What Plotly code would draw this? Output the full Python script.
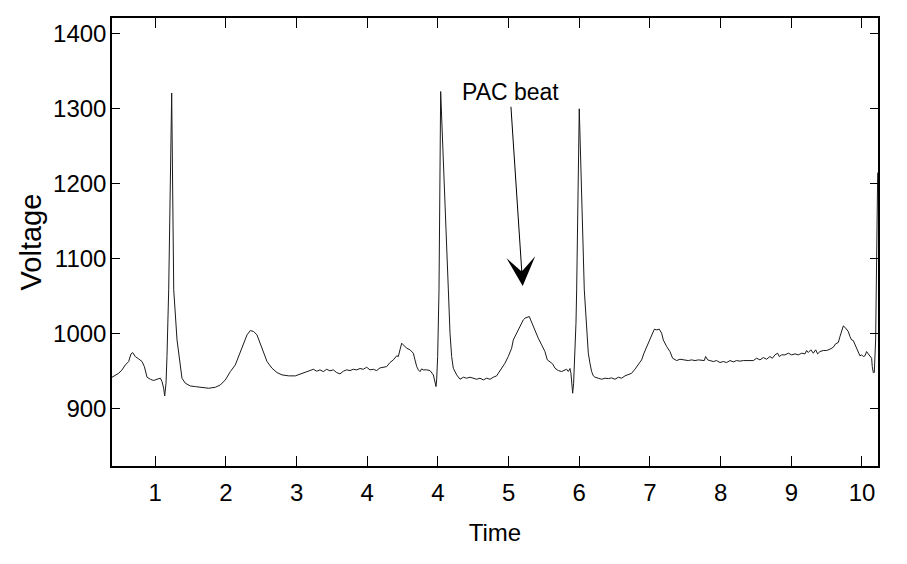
import plotly.graph_objects as go

# ECG trace (time in s, voltage)
time = [
    0.350, 0.392, 0.435, 0.477, 0.520, 0.562, 0.592, 0.613, 0.647, 0.690,
    0.732, 0.762, 0.774, 0.796, 0.838, 0.881, 0.923, 0.965, 0.987, 1.008,
    1.021, 1.038, 1.050, 1.072, 1.110, 1.136, 1.178, 1.220, 1.241, 1.284,
    1.347, 1.411, 1.496, 1.581, 1.666, 1.729, 1.793, 1.857, 1.920, 1.984,
    2.027, 2.069, 2.111, 2.154, 2.196, 2.239, 2.281, 2.324, 2.387, 2.451,
    2.515, 2.600, 2.684, 2.769, 2.833,
    2.871, 2.914, 2.956, 2.999, 3.041, 3.084, 3.126, 3.168, 3.211, 3.253,
    3.296, 3.338, 3.381, 3.423, 3.466, 3.508, 3.550, 3.593, 3.635, 3.678,
    3.720, 3.763, 3.805, 3.848, 3.890, 3.932, 3.975, 3.996, 4.017, 4.039,
    4.060, 4.102, 4.145, 4.187, 4.208, 4.230, 4.251, 4.272, 4.293, 4.314,
    4.357, 4.399, 4.442, 4.463, 4.476, 4.484, 4.497, 4.514, 4.535, 4.633,
    4.654, 4.675, 4.696, 4.739, 4.781, 4.824, 4.866, 4.909, 4.951, 4.994,
    5.036, 5.078, 5.121,
    5.163, 5.205, 5.248, 5.269, 5.312, 5.354, 5.396, 5.439, 5.460, 5.503,
    5.545, 5.587, 5.609, 5.638, 5.664, 5.681, 5.706, 5.736, 5.778, 5.821,
    5.863, 5.893, 5.927, 5.961, 5.991, 6.033, 6.076, 6.118, 6.139, 6.160,
    6.182, 6.194, 6.207, 6.216, 6.228, 6.245, 6.258, 6.267, 6.300, 6.364,
    6.394, 6.415, 6.436, 6.457, 6.479, 6.500, 6.542, 6.585, 6.627, 6.670,
    6.712, 6.755, 6.797, 6.840, 6.882, 6.924, 6.967, 7.009, 7.052, 7.094,
    7.124, 7.158, 7.200, 7.230, 7.256, 7.285, 7.319, 7.349, 7.370, 7.413,
    7.455, 7.489, 7.540, 7.582, 7.625,
    7.688, 7.731, 7.773, 7.816, 7.858, 7.892, 7.909, 7.935, 7.964, 8.007,
    8.049, 8.092, 8.134, 8.177, 8.219, 8.261, 8.304, 8.346, 8.389, 8.431,
    8.474, 8.516, 8.559, 8.601, 8.643, 8.686, 8.728, 8.758, 8.792, 8.826,
    8.847, 8.877, 8.919, 8.962, 9.004, 9.047, 9.089, 9.132, 9.174, 9.195,
    9.216, 9.250, 9.280, 9.310, 9.335, 9.365, 9.407, 9.450, 9.492, 9.535,
    9.564, 9.598, 9.620, 9.641, 9.662, 9.683, 9.705, 9.726, 9.747, 9.768,
    9.789, 9.811, 9.832, 9.853, 9.874, 9.896, 9.917, 9.938, 9.959, 9.980,
    10.002, 10.023, 10.031, 10.044, 10.057, 10.065, 10.074, 10.100,
]
voltage = [
    942.3, 945.4, 947.6, 952.0, 958.7, 963.2, 973.4, 975.2, 969.8, 966.7,
    963.2, 956.5, 949.8, 942.3, 939.6, 937.9, 939.6, 941.0, 936.5, 927.6,
    917.4, 934.3, 969.8, 1058.7, 1321.0, 1058.7, 992.0, 952.0, 941.0, 934.3,
    930.7, 929.8, 928.9, 927.6, 928.9, 932.0, 938.7, 949.8, 958.7, 976.5,
    987.6, 998.7, 1004.5, 1003.2, 998.7, 987.6, 974.3, 963.2, 954.3, 948.5,
    945.4, 944.1, 944.1, 947.6, 950.7,
    951.2, 952.9, 950.3, 952.1, 949.8, 952.9, 950.8, 952.1, 948.5, 946.8,
    950.3, 952.1, 951.2, 952.9, 952.1, 953.9, 952.9, 955.6, 952.1, 952.9,
    951.2, 954.7, 955.6, 956.5, 961.9, 965.4, 970.8, 969.9, 978.8, 987.6,
    985.4, 981.0, 978.8, 974.3, 965.4, 956.5, 952.1, 949.8, 953.4, 952.1,
    952.1, 951.2, 945.4, 936.5, 929.9, 938.7, 969.9, 1058.7, 1323.0, 1058.7,
    1001.0, 969.9, 954.3, 945.4, 939.6, 942.3, 941.0, 942.3, 941.0, 939.6,
    941.0, 938.7, 941.0,
    939.6, 942.3, 944.1, 947.6, 954.3, 961.0, 969.9, 981.0, 992.0, 1001.0,
    1009.9, 1018.7, 1021.0, 1022.3, 1023.2, 1018.7, 1012.0, 1003.2, 994.3, 985.4,
    976.5, 965.4, 963.2, 960.1, 954.3, 951.2, 949.9, 952.1, 953.0, 949.9,
    953.9, 947.6, 934.3, 921.0, 934.3, 969.9, 1014.3, 1058.7, 1300.0, 1058.7,
    1001.0, 974.3, 961.0, 950.0, 944.1, 942.3, 941.0, 939.6, 941.0, 940.5,
    941.4, 939.6, 942.3, 941.0, 944.1, 945.4, 947.6, 953.0, 958.7, 965.4,
    974.3, 983.2, 994.3, 1001.0, 1006.3, 1005.4, 1006.3, 1001.0, 992.0, 983.2,
    976.5, 967.6, 964.5, 966.3, 965.4,
    964.5, 965.4, 964.5, 965.4, 964.5, 964.5, 969.9, 965.4, 964.5, 963.2,
    964.5, 961.9, 963.2, 961.9, 964.5, 962.8, 964.5, 963.7, 964.5, 964.5,
    965.4, 964.5, 967.6, 965.4, 968.5, 966.3, 969.9, 967.6, 972.1, 974.3,
    969.9, 972.1, 972.1, 974.3, 972.1, 973.4, 972.1, 974.3, 973.4, 977.9,
    975.2, 978.8, 974.3, 978.8, 973.4, 976.5, 977.9, 977.9, 979.6, 982.3,
    986.8, 988.5, 996.5, 1005.4, 1010.7, 1008.9, 1006.3, 1003.2, 996.5, 992.0,
    991.2, 985.4, 981.0, 976.5, 970.8, 972.1, 969.9, 970.8, 976.5, 973.4,
    969.9, 967.6, 956.5, 948.5, 948.5, 969.9, 992.0, 1215.0,
]

x_tick_vals = [0.9, 1.8, 2.7, 3.6, 4.5, 5.4, 6.3, 7.2, 8.1, 9.0, 9.9]
x_tick_text = ["1", "2", "3", "4", "4", "5", "6", "7", "8", "9", "10"]
y_tick_vals = [900, 1000, 1100, 1200, 1300, 1400]

note_text = "PAC beat"
note_tip = (5.58, 1064)
note_tail = (5.418, 1322)

regular = "Liberation Sans, Arial, Helvetica, sans-serif"

fig = go.Figure()
fig.add_trace(go.Scatter(
    x=time, y=voltage, mode="lines",
    line=dict(color="#1a1a1a", width=1),
    hoverinfo="skip", showlegend=False,
))

fig.add_annotation(
    x=note_tip[0], y=note_tip[1], ax=note_tail[0], ay=note_tail[1],
    xref="x", yref="y", axref="x", ayref="y",
    text=note_text, showarrow=True, arrowhead=3, arrowsize=4.8,
    arrowwidth=1, arrowcolor="black",
    font=dict(family=regular, size=23, color="black"),
)

fig.update_layout(
    width=907, height=564,
    margin=dict(l=112, r=29, t=18, b=98),
    paper_bgcolor="white", plot_bgcolor="white",
    xaxis=dict(
        range=[0.35, 10.104], tickmode="array",
        tickvals=x_tick_vals, ticktext=x_tick_text,
        ticks="inside", ticklen=10, tickwidth=1.2, tickcolor="black",
        showline=True, linecolor="black", linewidth=1.5, mirror="ticks",
        showgrid=False, zeroline=False,
        tickfont=dict(family=regular, size=24, color="black"),
        ticklabelstandoff=4,
        title=dict(text="Time", font=dict(family=regular, size=24, color="black"),
                   standoff=20),
    ),
    yaxis=dict(
        range=[824, 1421], tickmode="array", tickvals=y_tick_vals,
        ticks="inside", ticklen=8, tickwidth=1.2, tickcolor="black",
        showline=True, linecolor="black", linewidth=1.5, mirror="ticks",
        showgrid=False, zeroline=False,
        tickfont=dict(family=regular, size=24, color="black"),
        ticklabelstandoff=-1,
        title=dict(text="Voltage", font=dict(family=regular, size=29, color="black"),
                   standoff=3),
    ),
)

fig.write_html("out.html")
